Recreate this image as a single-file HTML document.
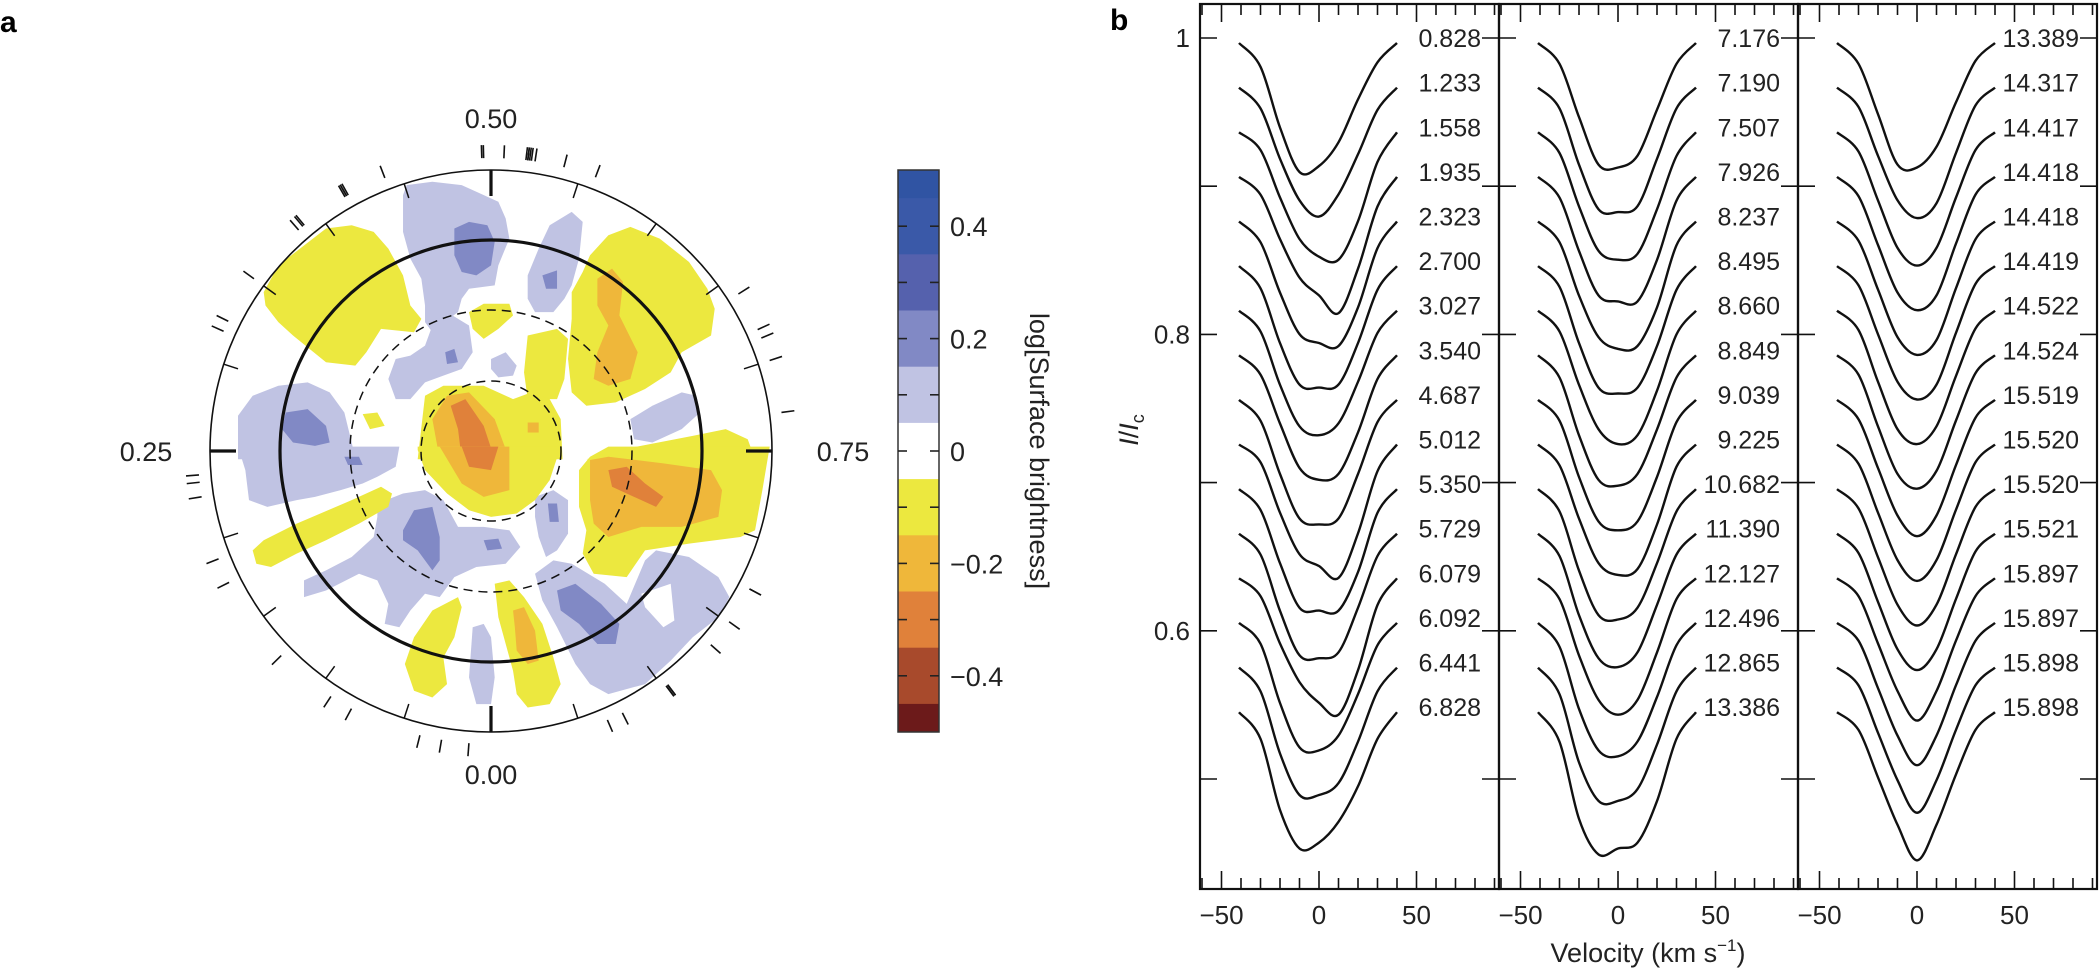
<!DOCTYPE html>
<html><head><meta charset="utf-8">
<style>
html,body{margin:0;padding:0;background:#fff;}
svg{display:block;font-family:"Liberation Sans",Arial,sans-serif;}
</style></head>
<body>
<svg id="fig" width="2100" height="976" viewBox="0 0 2100 976" xmlns="http://www.w3.org/2000/svg">
<defs><clipPath id="disk"><circle cx="491" cy="451" r="281"/></clipPath></defs>
<text x="0" y="32" font-size="30" font-weight="bold">a</text>
<g id="map" clip-path="url(#disk)">
 <g transform="translate(205,165) scale(0.3667,0.3344)">
  <g fill="#c0c3e3">
   <polygon points="540,90 550,60 620,50 700,60 740,80 800,110 820,160 830,220 800,300 790,360 720,370 700,400 690,440 640,480 620,500 600,470 600,420 590,340 560,280 540,200"/>
   <polygon points="620,480 660,440 720,480 730,560 700,610 650,630 600,650 560,700 520,700 500,640 520,580 560,570 600,540"/>
   <polygon points="880,330 910,250 940,180 1000,140 1030,170 1020,280 1000,360 980,400 950,440 900,440 880,400"/>
   <polygon points="780,580 820,560 850,600 840,630 800,635 780,610"/>
   <polygon points="90,750 130,690 200,660 280,650 340,680 380,740 400,830 410,880 90,880"/>
   <polygon points="1160,760 1220,720 1300,680 1340,690 1350,740 1300,790 1220,830 1170,820"/>
  </g>
  <g fill="#8189c5">
   <polygon points="680,190 720,170 770,180 790,230 780,300 740,330 700,320 680,270"/>
   <polygon points="655,560 680,550 690,590 660,595"/>
   <polygon points="920,330 960,315 960,370 930,370"/>
   <polygon points="220,740 280,730 330,780 340,830 300,840 240,830 210,790"/>
  </g>
  <g fill="#ece83f">
   <polygon points="160,380 200,300 330,190 400,180 460,200 500,250 540,330 560,420 590,460 570,500 480,490 440,560 410,600 330,590 240,510 200,470 165,420"/>
   <polygon points="1050,270 1100,210 1160,185 1240,220 1320,290 1370,370 1390,430 1380,510 1300,560 1270,620 1200,670 1120,710 1040,720 1000,680 990,580 1000,460 1000,380 1030,320"/>
   <polygon points="880,510 960,490 990,520 980,640 960,700 880,700 870,620"/>
   <polygon points="720,440 760,415 830,415 840,450 800,490 760,520 730,490"/>
   <polygon points="580,880 600,690 650,660 760,660 840,700 890,680 940,700 970,760 975,880"/>
   <polygon points="430,745 470,740 490,780 450,790"/>
   <polygon points="1040,880 1140,850 1330,810 1420,790 1480,820 1500,880"/>
  </g>
  <g fill="#efb73a">
   <polygon points="1070,340 1110,310 1140,350 1130,450 1180,560 1160,640 1100,660 1060,640 1070,560 1100,480 1070,420"/>
   <polygon points="620,760 660,690 720,680 790,760 830,880 640,880"/>
   <polygon points="880,770 910,770 910,800 880,800"/>
  </g>
  <g fill="#e0813a">
   <polygon points="670,720 710,700 760,780 790,880 700,880 690,790"/>
  </g>
 </g>
 <g transform="translate(205,450) scale(0.3667,0.3344)">
  <g fill="#c0c3e3">
   <polygon points="90,-10 530,-10 520,50 470,80 430,100 370,120 300,140 250,150 170,170 120,150 110,60"/>
   <polygon points="470,160 540,130 600,120 650,150 690,230 760,230 830,240 860,290 820,340 740,350 680,380 640,440 600,430 560,480 530,530 490,520 500,460 470,390 420,370 330,420 270,440 270,390 330,360 400,320 460,260 470,200"/>
   <polygon points="900,140 950,120 990,150 990,250 960,300 930,320 910,260 900,200"/>
   <polygon points="900,370 950,330 1000,340 1090,400 1150,460 1200,330 1230,300 1320,320 1400,380 1430,440 1400,500 1330,560 1270,630 1200,700 1100,730 1050,700 1010,640 960,530 920,450"/>
   <polygon points="730,530 760,520 780,560 790,680 780,760 740,760 720,680"/>
  </g>
  <polygon fill="#fff" points="1190,430 1270,400 1280,510 1250,530 1200,470"/>
  <g fill="#8189c5">
   <polygon points="380,20 420,20 430,45 390,45"/>
   <polygon points="540,240 570,180 620,170 640,260 640,330 620,360 580,300 540,270"/>
   <polygon points="760,270 800,265 810,295 770,300"/>
   <polygon points="935,160 960,160 965,215 940,215"/>
   <polygon points="960,420 1010,400 1080,460 1130,520 1120,580 1070,580 1020,520 970,480"/>
  </g>
  <g fill="#ece83f">
   <polygon points="580,-10 580,0 600,60 660,130 720,180 780,200 850,190 900,150 940,90 970,-10"/>
   <polygon points="1020,60 1050,20 1100,-10 1540,-10 1520,120 1500,240 1460,260 1320,280 1200,300 1150,380 1060,370 1030,310 1040,240 1020,170"/>
   <polygon points="130,300 160,270 250,220 400,150 480,110 510,130 500,170 420,220 330,270 250,310 180,350 140,340"/>
   <polygon points="570,560 620,480 690,440 700,470 680,560 650,620 660,700 620,740 570,720 545,640"/>
   <polygon points="790,400 830,390 870,440 920,520 950,620 970,700 940,760 880,770 850,730 840,660 820,580 800,500"/>
  </g>
  <g fill="#efb73a">
   <polygon points="640,-10 700,100 760,140 830,120 830,-10"/>
   <polygon points="1050,30 1100,20 1250,40 1380,60 1410,120 1400,200 1300,230 1190,230 1100,260 1060,220 1050,150"/>
   <polygon points="840,480 870,470 900,540 910,630 880,640 850,600 845,530"/>
  </g>
  <g fill="#e0813a">
   <polygon points="700,-10 720,50 780,60 800,-10"/>
   <polygon points="1100,60 1150,50 1200,100 1250,140 1230,170 1170,140 1110,110"/>
  </g>
 </g>
</g>
<g id="rings" fill="none" stroke="#111">
 <circle cx="491" cy="451" r="281" stroke-width="1.6"/>
 <circle cx="491" cy="451" r="211" stroke-width="3.2"/>
 <circle cx="491" cy="451" r="141" stroke-width="1.5" stroke-dasharray="9,6"/>
 <circle cx="491" cy="451" r="70" stroke-width="1.5" stroke-dasharray="9,6"/>
</g>
<g id="diskTicks" stroke="#111"></g>
<g id="phaseTicks" stroke="#111" stroke-width="1.6"></g>
<g font-size="27" fill="#222" text-anchor="middle">
 <text x="491" y="128">0.50</text>
 <text x="491" y="784">0.00</text>
 <text x="146" y="461">0.25</text>
 <text x="843" y="461">0.75</text>
</g>
<g id="cbar"></g>
<text transform="translate(1030,451) rotate(90)" text-anchor="middle" font-size="27" fill="#222">log[Surface brightness]</text>

<text x="1110" y="30" font-size="30" font-weight="bold">b</text>
<g id="panelB"></g>
<text transform="translate(1138,430) rotate(-90)" text-anchor="middle" font-size="27" fill="#222"><tspan font-style="italic">I</tspan>/<tspan font-style="italic">I</tspan><tspan font-size="18" dy="6">c</tspan></text>
<text x="1648" y="962" text-anchor="middle" font-size="27" fill="#222">Velocity (km s<tspan font-size="17" dy="-11">−1</tspan><tspan dy="11">)</tspan></text>
</svg>
<script>
const NS="http://www.w3.org/2000/svg";
function mk(tag,attrs,parent){const e=document.createElementNS(NS,tag);for(const k in attrs)e.setAttribute(k,attrs[k]);parent.appendChild(e);return e;}

// ---- panel a data ----
const obsPhases=[0.828,0.233,0.558,0.935,0.323,0.700,0.027,0.540,0.687,0.012,0.350,0.729,0.079,0.092,0.441,0.828,
0.176,0.190,0.507,0.926,0.237,0.495,0.660,0.849,0.039,0.225,0.682,0.390,0.127,0.496,0.865,0.386,
0.389,0.317,0.417,0.418,0.418,0.419,0.522,0.524,0.519,0.520,0.520,0.521,0.897,0.897,0.898,0.898];
const cbarLevels=[0.5,0.4,0.3,0.2,0.1,0,-0.1,-0.2,-0.3,-0.4,-0.5];
const cbarColors=["#3054a3","#3a59a8","#5561ad","#8189c5","#c0c3e3","#ffffff","#ece83f","#efb73a","#e0813a","#a84a2c","#6c1a1a"];
const cbarTickVals=[0.4,0.3,0.2,0.1,0,-0.1,-0.2,-0.3,-0.4];
const cbarLabels=["0.4","0.2","0","−0.2","−0.4"];
const cbarLabelVals=[0.4,0.2,0,-0.2,-0.4];

const cx=491,cy=451,R=281;
function pt(p,r){const t=2*Math.PI*p;return [cx-r*Math.sin(t),cy+r*Math.cos(t)];}
const dt=document.getElementById('diskTicks');
for(let i=0;i<20;i++){const p=i/20;const major=(i%5===0);
 const a=pt(p,R),b=pt(p,R-(major?26:15));
 const l=mk('line',{x1:a[0],y1:a[1],x2:b[0],y2:b[1],'stroke-width':major?3.2:1.5},dt);
 
 }
const pg=document.getElementById('phaseTicks');
obsPhases.forEach(p=>{const a=pt(p,R+12),b=pt(p,R+25);
 const l=mk('line',{x1:a[0],y1:a[1],x2:b[0],y2:b[1]},pg);
 
 });

// colorbar
const cb=document.getElementById('cbar');
const cbTop=170,cbBot=732,cbX=898,cbW=41;
function cbY(v){return cbTop+(0.5-v)/1.0*(cbBot-cbTop);}
cbarLevels.forEach((v,i)=>{const y1=cbY(Math.min(0.5,v+0.05)),y2=cbY(Math.max(-0.5,v-0.05));
 const r=mk('rect',{x:cbX,y:y1,width:cbW,height:y2-y1+0.5,fill:cbarColors[i]},cb);
 
 });
mk('rect',{x:cbX,y:cbTop,width:cbW,height:cbBot-cbTop,fill:'none',stroke:'#333','stroke-width':1.5},cb);
cbarTickVals.forEach(v=>{const y=cbY(v);
 mk('line',{x1:cbX,y1:y,x2:cbX+9,y2:y,stroke:'#222','stroke-width':1.6},cb);
 mk('line',{x1:cbX+cbW-9,y1:y,x2:cbX+cbW,y2:y,stroke:'#222','stroke-width':1.6},cb);});
cbarLabelVals.forEach((v,i)=>{const t=mk('text',{x:950,y:cbY(v)+10,'font-size':27,fill:'#222'},cb);t.textContent=cbarLabels[i];
 
 });

// ---- panel b data ----
const vels=[-41,-30,-20,-10,0,10,20,30,40];
const phases1=["0.828","1.233","1.558","1.935","2.323","2.700","3.027","3.540","4.687","5.012","5.350","5.729","6.079","6.092","6.441","6.828"];
const phases2=["7.176","7.190","7.507","7.926","8.237","8.495","8.660","8.849","9.039","9.225","10.682","11.390","12.127","12.496","12.865","13.386"];
const phases3=["13.389","14.317","14.417","14.418","14.418","14.419","14.522","14.524","15.519","15.520","15.520","15.521","15.897","15.897","15.898","15.898"];
const depth1=[[0,16,57,87,83,67,38,13,0],[0,14,48,76,87,72,45,15,0],[0,12,44,72,84,86,60,20,0],[0,12,42,68,80,92,62,20,0],
[0,14,48,76,82,84,58,18,0],[0,15,52,80,82,80,52,16,0],[0,14,50,78,84,76,48,15,0],[0,13,46,76,84,80,52,16,0],
[0,14,50,80,84,80,50,15,0],[0,12,46,74,82,90,60,18,0],[0,14,50,80,82,82,56,16,0],[0,14,52,82,84,80,50,15,0],
[0,12,44,70,84,92,62,18,0],[0,14,54,84,86,76,48,15,0],[0,16,58,86,86,78,50,16,0],[0,18,66,92,88,74,50,18,0]];
const depth2=[[0,14,50,82,84,76,45,14,0],[0,14,52,82,84,80,48,14,0],[0,14,50,80,86,82,52,16,0],[0,14,50,80,84,84,56,16,0],
[0,14,50,78,86,84,58,16,0],[0,14,52,82,86,82,54,16,0],[0,14,50,80,90,84,54,16,0],[0,15,54,84,88,80,50,15,0],
[0,14,52,82,88,82,52,15,0],[0,14,50,80,88,84,54,15,0],[0,15,55,85,88,80,50,15,0],[0,15,55,84,90,80,48,14,0],
[0,14,52,82,92,82,50,14,0],[0,16,58,86,90,80,50,15,0],[0,18,64,90,90,82,52,16,0],[0,20,72,96,92,88,60,18,0]];
const depth3=[[0,14,48,82,84,70,40,12,0],[0,13,46,76,88,78,44,12,0],[0,13,46,78,90,78,44,12,0],[0,13,46,78,90,80,45,12,0],
[0,13,46,78,90,80,45,12,0],[0,13,46,78,90,80,45,12,0],[0,13,48,80,90,78,44,12,0],[0,13,48,80,90,78,44,12,0],
[0,13,46,78,92,78,44,12,0],[0,13,46,78,92,78,44,12,0],[0,13,46,78,92,78,44,12,0],[0,13,46,78,92,78,44,12,0],
[0,12,44,76,96,76,42,12,0],[0,12,44,76,96,76,42,12,0],[0,12,44,76,98,76,42,12,0],[0,12,44,76,100,76,42,12,0]];
const yTickVals=[1.0,0.9,0.8,0.7,0.6,0.5];
const yTickLabels=["1","","0.8","","0.6",""];
const xTickVals=[-50,0,50];
const xTickLabels=["−50","0","50"];
const continuumTop=0.9966, profileStep=0.0301;

const PL=1200,PW=299,PT=4,PB=889;
function yS(v){return 38+(1-v)*1482;}
function xS(panel,v){return PL+PW*panel+119+v*1.95;}
const pb=document.getElementById('panelB');


for(let k=0;k<3;k++){
 const x0=PL+PW*k;
 mk('rect',{x:x0,y:PT,width:PW,height:PB-PT,fill:'none',stroke:'#111','stroke-width':2.2},pb);
 for(let v=-60;v<=90;v+=10){const x=xS(k,v);if(x<=x0+1||x>=x0+PW-1)continue;const L=(v%50===0)?18:11;
  mk('line',{x1:x,y1:PB,x2:x,y2:PB-L,stroke:'#111','stroke-width':1.6},pb);
  mk('line',{x1:x,y1:PT,x2:x,y2:PT+L,stroke:'#111','stroke-width':1.6},pb);}
 xTickVals.forEach((v,i)=>{const t=mk('text',{x:xS(k,v),y:924,'font-size':26,'text-anchor':'middle',fill:'#222'},pb);t.textContent=xTickLabels[i];
  
  });
}
for(let k=0;k<=3;k++){const x=PL+PW*k;
 yTickVals.forEach(v=>{const y=yS(v);
  mk('line',{x1:k>0?x-17:x,y1:y,x2:k<3?x+17:x,y2:y,stroke:'#111','stroke-width':1.6},pb);});}
yTickVals.forEach((v,i)=>{if(!yTickLabels[i])return;const t=mk('text',{x:1190,y:yS(v)+9,'font-size':26,'text-anchor':'end',fill:'#222'},pb);t.textContent=yTickLabels[i];
 
 });

function pathFor(k,i,d){
 const c=continuumTop-profileStep*i;
 const P=vels.map((v,j)=>[xS(k,v),yS(c-d[j]/1000)]);
 let s="M"+P[0][0].toFixed(1)+","+P[0][1].toFixed(1);
 for(let j=0;j<P.length-1;j++){const p0=P[Math.max(0,j-1)],p1=P[j],p2=P[j+1],p3=P[Math.min(P.length-1,j+2)];
  const c1=[p1[0]+(p2[0]-p0[0])/6,p1[1]+(p2[1]-p0[1])/6],c2=[p2[0]-(p3[0]-p1[0])/6,p2[1]-(p3[1]-p1[1])/6];
  s+=" C"+c1[0].toFixed(1)+","+c1[1].toFixed(1)+" "+c2[0].toFixed(1)+","+c2[1].toFixed(1)+" "+p2[0].toFixed(1)+","+p2[1].toFixed(1);}
 return s;}
const depths=[depth1,depth2,depth3],labels=[phases1,phases2,phases3];
for(let k=0;k<3;k++){
 depths[k].forEach((d,i)=>{
  const p=mk('path',{d:pathFor(k,i,d),fill:'none',stroke:'#111','stroke-width':2.4,'stroke-linejoin':'round'},pb);
  
  
  const c=continuumTop-profileStep*i;
  const t=mk('text',{x:PL+PW*k+PW-18,y:yS(c)+4,'font-size':25,'text-anchor':'end',fill:'#222'},pb);
  t.textContent=labels[k][i];
  
  
 });
}
</script>
</body></html>
